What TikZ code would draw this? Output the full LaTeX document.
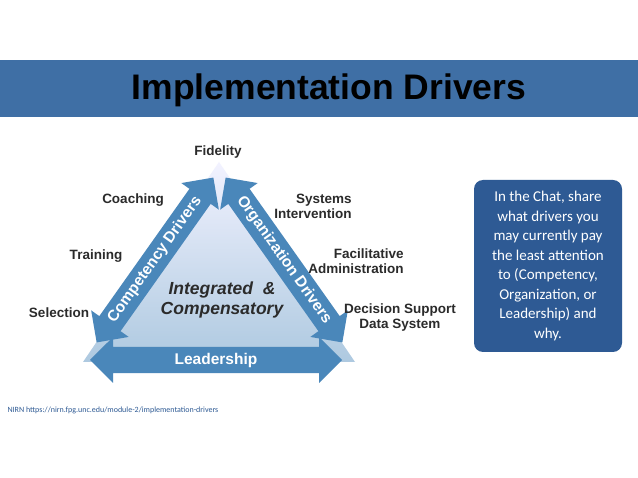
\documentclass[tikz,border=0pt]{standalone}
\usepackage{fontspec}
\setmainfont{Liberation Sans}
\newfontfamily\calfont{Carlito}
\usetikzlibrary{shapes.arrows}
\definecolor{bar}{HTML}{3F6FA5}
\definecolor{arr}{HTML}{4A87BA}
\definecolor{chat}{HTML}{2E5A94}
\definecolor{lab}{HTML}{2B2B2B}
\tikzset{
 darr/.style={double arrow, fill=arr, text=white, font=\bfseries\fontsize{15.5}{15.5}\selectfont,
   minimum height=#1, minimum width=46pt, double arrow head extend=8pt, inner sep=3pt, anchor=center},
 lab/.style={text=lab, font=\bfseries\fontsize{13.5}{15}\selectfont, align=left}
}
\begin{document}
\begin{tikzpicture}[x=1pt,y=-1pt]
\useasboundingbox (0,0) rectangle (638,478);
\fill[white] (0,0) rectangle (638,478);
\fill[bar] (0,60) rectangle (638,117);
\node[font=\bfseries\fontsize{35.5}{36}\selectfont] (title) at (329,90) {Implementation Drivers};
\shade[top color=blue!5!white, bottom color=arr!45!white] (219,162) -- (83,362) -- (355,362) -- cycle;
\node[darr=202pt, rotate=54.7] (comp) at (155,260) {Competency Drivers};
\node[darr=202pt, rotate=-54.7] (org) at (284,260) {Organization Drivers};
\node[darr=252pt] (lead) at (216,360) {Leadership};
\node[text=lab, font=\bfseries\itshape\fontsize{17.5}{20}\selectfont, align=center] (ic) at (222,300) {Integrated \ \&\\Compensatory};
\node[lab] (fid) at (218,152) {Fidelity};
\node[lab] (coa) at (133,200) {Coaching};
\node[lab] (tra) at (96,256) {Training};
\node[lab] (sel) at (59,313) {Selection};
\node[lab, align=right] (sys) at (313,206) {Systems\\Intervention};
\node[lab, align=right] (fac) at (356,261) {Facilitative\\Administration};
\node[lab, align=center] (dec) at (400,318) {Decision Support\\Data System};
\node[fill=chat, rounded corners=9pt, minimum width=148pt, minimum height=172pt, text=white,
  font=\calfont\fontsize{15}{19.5}\selectfont, align=center] (chatbox) at (548,266)
  {In the Chat, share\\what drivers you\\may currently pay\\the least attention\\to (Competency,\\Organization, or\\Leadership) and\\why.};
\node[anchor=west, text=chat, font=\calfont\fontsize{8}{9}\selectfont] (ref) at (4,410) {NIRN https://nirn.fpg.unc.edu/module-2/implementation-drivers};
\end{tikzpicture}
\end{document}
